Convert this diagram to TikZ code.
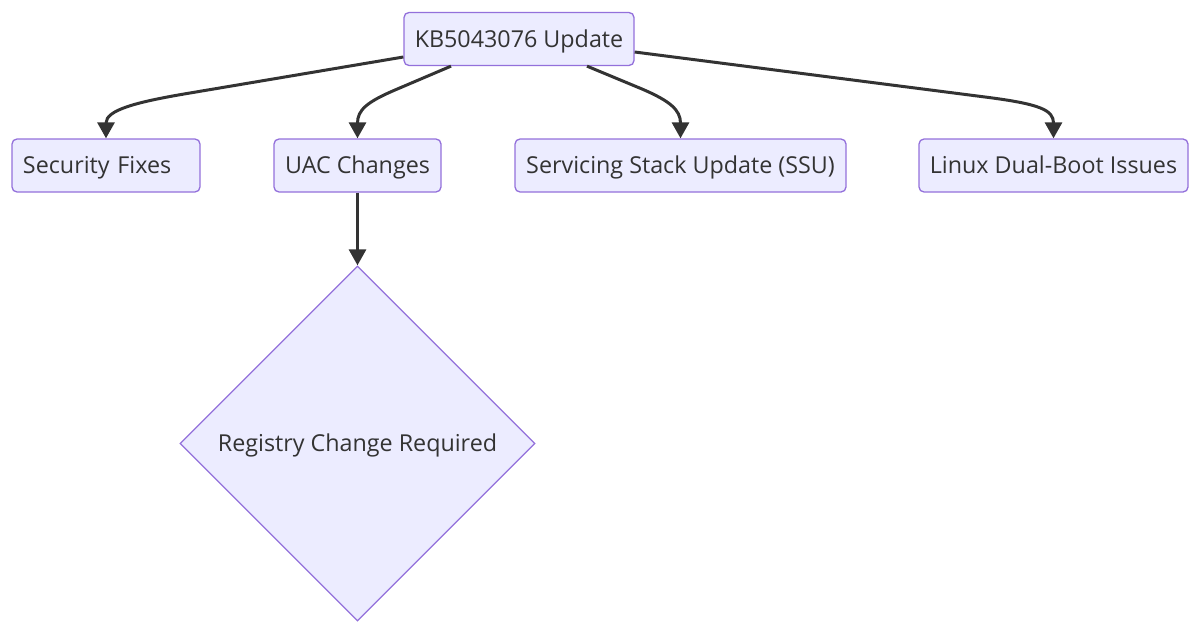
\documentclass[tikz,border=0pt]{standalone}
\usepackage{fontspec}
\setmainfont{Open Sans}
\usetikzlibrary{shapes.geometric,arrows.meta}
\definecolor{nodefill}{HTML}{ECECFF}
\definecolor{nodedraw}{HTML}{9370DB}
\definecolor{edgecol}{HTML}{333333}
\definecolor{txt}{HTML}{333333}
\tikzset{
  box/.style={draw=nodedraw, fill=nodefill, line width=1.3pt, rounded corners=5pt,
    minimum height=53pt, inner sep=0pt, text=txt, font=\fontsize{23.3}{28}\selectfont,
    text height=16.8pt, text depth=0pt},
  dia/.style={draw=nodedraw, fill=nodefill, line width=1.3pt, diamond, aspect=1,
    minimum width=355pt, minimum height=355pt, inner sep=0pt, text=txt,
    font=\fontsize{23.3}{28}\selectfont, text height=16.8pt, text depth=0pt},
  edge/.style={draw=edgecol, line width=3pt, -{Triangle[length=16pt,width=17pt]}}
}
\begin{document}
\begin{tikzpicture}[x=1pt,y=-1pt]
\useasboundingbox (0,0) rectangle (1200,634);
\node[box, minimum width=230pt] (kb) at (519,39) {KB5043076 Update};
\node[box, minimum width=188pt, text width=166pt, align=left] (sec) at (106,165.5) {Security Fixes};
\node[box, minimum width=167pt] (uac) at (357.5,165.5) {UAC Changes};
\node[box, minimum width=331pt] (ssu) at (680.5,165.5) {Servicing Stack Update (SSU)};
\node[box, minimum width=269pt] (lin) at (1053.5,165.5) {Linux Dual-Boot Issues};
\node[dia] (reg) at (357.5,443.5) {Registry Change Required};
\draw[edge] ([yshift=-18pt]kb.west) -- (190,93) .. controls (136,102) and (106,110) .. (sec.north);
\draw[edge] ([xshift=-68pt]kb.south) -- (395,90) .. controls (367,102) and (357.5,110) .. (uac.north);
\draw[edge] ([xshift=68pt]kb.south) -- (642,89) .. controls (670,101) and (680.5,110) .. (ssu.north);
\draw[edge] ([yshift=-13pt]kb.east) -- (985,97) .. controls (1040,104) and (1053.5,110) .. (lin.north);
\draw[edge] (uac.south) -- (reg.north);
\end{tikzpicture}
\end{document}
